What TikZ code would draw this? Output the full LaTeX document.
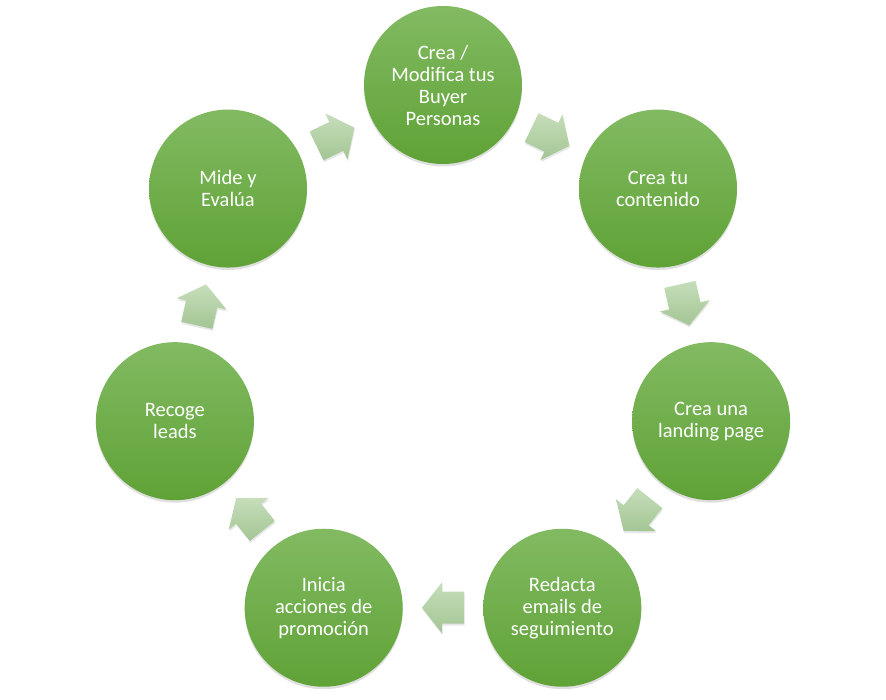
\documentclass[tikz,border=0pt]{standalone}
\usepackage{fontspec}
\setmainfont{Carlito}
\usetikzlibrary{calc, shadows}
\definecolor{cycletop}{HTML}{82BA62}
\definecolor{cyclebot}{HTML}{5FA236}
\definecolor{flowtop}{HTML}{C6DEBA}
\definecolor{flowbot}{HTML}{A3C594}

\begin{document}
\begin{tikzpicture}[x=1pt, y=1pt,
    stage/.style={circle, minimum size=158pt, inner sep=0pt, top color=cycletop, bottom color=cyclebot,
      text=white, align=center, font=\fontsize{20.5}{22}\selectfont,
      drop shadow={shadow xshift=0pt, shadow yshift=-2.5pt, opacity=0.25}},
    flow/.style={top color=flowtop, bottom color=flowbot,
      drop shadow={shadow xshift=0.5pt, shadow yshift=-2pt, opacity=0.2}}]
      \useasboundingbox (0,0) rectangle (886,700);
      \coordinate (o) at (443,340);
      \foreach \i/\lab in {1/{Crea /\\Modifica tus\\Buyer\\Personas}, 2/{Crea tu\\contenido}, 3/{Crea una\\landing page},
          4/{Redacta\\emails de\\seguimiento}, 5/{Inicia\\acciones de\\promoción}, 6/{Recoge\\leads}, 7/{Mide y\\Evalúa}} {
        \node[stage] (c\i) at ($(o)+({90-(\i-1)*360/7}:275)$) {\lab};
      }
      \foreach \i/\j in {1/2, 2/3, 3/4, 4/5, 5/6, 6/7, 7/1} {
        \pgfmathsetmacro{\d}{-(\i-1)*360/7-360/14}
        \pgfmathsetmacro{\n}{\d+90}
        \coordinate (m\i) at ($(c\i)!0.5!(c\j)$);
        \path[flow] ($(m\i)+(\d:-21)+(\n:16)$) -- ($(m\i)+(\d:1)+(\n:16)$) -- ($(m\i)+(\d:1)+(\n:25.5)$)
          -- ($(m\i)+(\d:21)$) -- ($(m\i)+(\d:1)+(\n:-25.5)$) -- ($(m\i)+(\d:1)+(\n:-16)$)
          -- ($(m\i)+(\d:-21)+(\n:-16)$) -- cycle;
      }
    \end{tikzpicture}
\end{document}
